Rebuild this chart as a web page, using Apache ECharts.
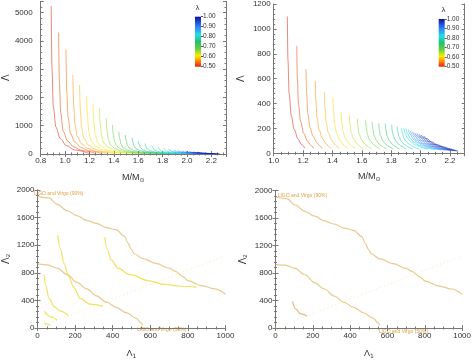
<!DOCTYPE html>
<html><head><meta charset="utf-8">
<script src="https://cdn.jsdelivr.net/npm/echarts@6/dist/echarts.min.js"></script>
<style>html,body{margin:0;padding:0;background:#fff}#c{width:474px;height:360px}</style>
</head><body><div id="c"></div>
<script>
// ---------- DATA ----------
const lambdaValues = [0.50,0.52,0.54,0.56,0.58,0.60,0.62,0.64,0.66,0.68,0.70,0.72,0.74,0.76,0.78,0.80,0.82,0.84,0.86,0.88,0.90,0.92,0.94,0.96,0.98,1.00];
const colorbarTicks = [0.50,0.60,0.70,0.80,0.90,1.00];

// top-left panel: Lambda vs M/Msun
const curvesA = [
 [[0.886,5236],[0.893,3000],[0.903,1700],[0.925,950],[0.96,550],[1.01,300],[1.08,140],[1.2,20]],
 [[0.947,4300],[0.954,2500],[0.964,1450],[0.985,800],[1.02,460],[1.07,250],[1.14,120],[1.25,20]],
 [[1.007,3700],[1.014,2200],[1.024,1300],[1.045,720],[1.08,420],[1.13,230],[1.2,110],[1.3,20]],
 [[1.064,2800],[1.071,1750],[1.081,1050],[1.10,620],[1.135,360],[1.185,200],[1.25,95],[1.35,20]],
 [[1.119,2440],[1.126,1500],[1.136,920],[1.155,550],[1.19,320],[1.24,180],[1.31,85],[1.41,15]],
 [[1.177,2050],[1.184,1300],[1.194,800],[1.213,480],[1.25,280],[1.30,160],[1.37,75],[1.47,15]],
 [[1.229,1760],[1.236,1120],[1.246,700],[1.266,420],[1.30,250],[1.35,140],[1.42,65],[1.53,12]],
 [[1.282,1620],[1.289,1030],[1.299,640],[1.318,390],[1.355,230],[1.405,130],[1.475,60],[1.59,12]],
 [[1.337,1260],[1.344,820],[1.354,520],[1.374,320],[1.41,190],[1.46,110],[1.53,50],[1.65,10]],
 [[1.389,1030],[1.396,680],[1.406,440],[1.426,270],[1.46,165],[1.51,95],[1.58,45],[1.70,10]],
 [[1.441,790],[1.448,540],[1.458,350],[1.478,220],[1.515,135],[1.565,80],[1.64,38],[1.76,8]],
 [[1.494,670],[1.502,460],[1.512,300],[1.532,190],[1.57,118],[1.62,70],[1.70,33],[1.82,8]],
 [[1.549,580],[1.557,400],[1.567,265],[1.588,168],[1.625,105],[1.675,63],[1.755,30],[1.88,7]],
 [[1.601,450],[1.609,320],[1.62,215],[1.64,140],[1.68,88],[1.73,54],[1.81,26],[1.94,6]],
 [[1.656,370],[1.664,265],[1.675,180],[1.695,120],[1.735,76],[1.785,47],[1.87,22],[2.0,5]],
 [[1.711,300],[1.72,220],[1.731,152],[1.752,102],[1.79,66],[1.84,42],[1.92,20],[2.05,5]],
 [[1.763,245],[1.772,182],[1.784,128],[1.805,88],[1.845,58],[1.895,37],[1.97,18],[2.1,4]],
 [[1.81,200],[1.82,150],[1.833,108],[1.855,76],[1.895,51],[1.945,33],[2.02,17],[2.14,4]],
 [[1.85,170],[1.86,130],[1.875,95],[1.9,68],[1.94,46],[1.99,30],[2.06,16],[2.17,4]],
 [[1.89,145],[1.9,113],[1.915,84],[1.94,61],[1.98,42],[2.03,28],[2.1,15],[2.2,4]],
 [[1.925,125],[1.936,98],[1.952,74],[1.977,55],[2.015,38],[2.065,26],[2.13,14],[2.22,4]],
 [[1.96,108],[1.97,86],[1.986,66],[2.01,49],[2.05,35],[2.1,24],[2.16,13],[2.235,4]],
 [[1.99,94],[2.0,76],[2.016,59],[2.04,45],[2.08,32],[2.125,22],[2.18,12],[2.245,4]],
 [[2.02,82],[2.03,67],[2.046,53],[2.07,41],[2.105,29],[2.15,20],[2.2,11],[2.255,4]],
 [[2.05,72],[2.06,60],[2.075,48],[2.1,37],[2.13,27],[2.17,19],[2.22,10],[2.262,4]],
 [[2.08,63],[2.09,53],[2.105,43],[2.125,34],[2.155,25],[2.19,17],[2.23,10],[2.27,4]]
];

// top-right panel
const curvesB = [
 [[1.093,1100],[1.097,750],[1.105,480],[1.12,300],[1.14,190],[1.165,115],[1.19,70],[1.213,40]],
 [[1.157,863],[1.161,600],[1.169,390],[1.184,250],[1.204,160],[1.229,100],[1.252,64],[1.272,40]],
 [[1.22,677],[1.224,480],[1.232,320],[1.248,205],[1.268,135],[1.293,88],[1.313,60],[1.33,38]],
 [[1.283,584],[1.287,420],[1.295,285],[1.31,185],[1.33,122],[1.355,80],[1.375,55],[1.39,38]],
 [[1.345,491],[1.349,360],[1.357,245],[1.372,165],[1.392,110],[1.415,74],[1.433,52],[1.447,38]],
 [[1.403,451],[1.407,330],[1.415,228],[1.43,155],[1.45,104],[1.472,71],[1.49,50],[1.503,38]],
 [[1.459,331],[1.463,250],[1.471,180],[1.486,125],[1.506,88],[1.528,62],[1.545,46],[1.558,36]],
 [[1.515,305],[1.519,232],[1.527,168],[1.542,118],[1.562,84],[1.583,60],[1.6,45],[1.612,36]],
 [[1.569,279],[1.573,215],[1.581,158],[1.596,112],[1.616,80],[1.637,58],[1.654,44],[1.666,36]],
 [[1.626,265],[1.63,205],[1.638,151],[1.653,108],[1.673,78],[1.694,57],[1.71,44],[1.722,36]],
 [[1.67,252],[1.674,196],[1.682,146],[1.697,105],[1.717,76],[1.738,56],[1.754,43],[1.767,35]],
 [[1.715,240],[1.719,188],[1.727,141],[1.742,102],[1.762,74],[1.783,55],[1.8,43],[1.812,35]],
 [[1.76,238],[1.764,186],[1.772,140],[1.787,101],[1.807,74],[1.828,55],[1.845,42],[1.857,34]],
 [[1.803,230],[1.807,181],[1.815,137],[1.83,100],[1.85,73],[1.872,55],[1.89,42],[1.903,34]],
 [[1.84,215],[1.845,172],[1.853,132],[1.868,97],[1.889,72],[1.912,54],[1.932,41],[1.947,33]],
 [[1.87,200],[1.876,162],[1.885,127],[1.9,95],[1.924,71],[1.952,53],[1.975,40],[1.993,32]],
 [[1.885,205],[1.895,160],[1.91,122],[1.935,90],[1.965,67],[2.0,50],[2.03,38],[2.05,32]],
 [[1.9,200],[1.912,156],[1.93,118],[1.955,88],[1.99,64],[2.03,47],[2.07,35],[2.1,29]],
 [[1.915,190],[1.93,150],[1.95,114],[1.98,84],[2.02,61],[2.06,45],[2.1,34],[2.14,26]],
 [[1.93,180],[1.945,145],[1.968,110],[2.0,81],[2.04,59],[2.085,43],[2.13,32],[2.17,24]],
 [[1.945,172],[1.962,140],[1.986,107],[2.02,78],[2.065,57],[2.11,41],[2.155,30],[2.195,22]],
 [[1.96,165],[1.978,135],[2.004,104],[2.04,76],[2.085,55],[2.13,40],[2.175,29],[2.21,21]],
 [[1.975,158],[1.995,130],[2.022,101],[2.06,74],[2.105,54],[2.15,39],[2.19,28],[2.225,20]],
 [[1.99,152],[2.01,126],[2.04,98],[2.08,72],[2.125,53],[2.17,38],[2.205,27],[2.235,19]],
 [[2.005,146],[2.026,122],[2.057,95],[2.098,70],[2.145,52],[2.185,37],[2.218,26],[2.245,18]],
 [[2.02,140],[2.042,118],[2.074,92],[2.115,68],[2.16,50],[2.2,36],[2.23,25],[2.255,17]]
];

// bottom panels: Lambda2 vs Lambda1
const ligo90 = [[0,1908],[61,1885],[105,1792],[157,1700],[210,1630],[262,1561],[314,1515],[367,1455],[419,1423],[463,1330],[480,1238],[498,1145],[515,1076],[559,1007],[629,938],[699,868],[734,822],[769,753],[803,684],[873,614],[943,568],[1000,490]];
const ligo50 = [[0,928],[52,915],[105,868],[157,776],[210,660],[262,568],[314,466],[367,374],[419,300],[472,222],[524,143],[550,74],[559,37]];
const equalMass = [[0,0],[1000,1050]];
const tracksLeft = [
 [[35,776],[44,614],[61,430],[87,314],[122,245],[166,176]],
 [[35,245],[70,162],[105,115]],
 [[35,74],[70,37]],
 [[108,1344],[122,1145],[140,938],[166,753],[192,591],[227,430],[279,346],[349,314]],
 [[358,1316],[370,1145],[393,984],[428,868],[489,776],[594,684],[664,637],[760,605],[847,591]]
];
const tracksRight = [
 [[91,388],[109,274],[135,205],[170,174]]
];
const label90 = 'LIGO and Virgo (90%)';
const label50 = 'LIGO and Virgo (50%)';

// ---------- STYLE ----------
const FONT = 'Liberation Sans, Arial, sans-serif';
const cmap = [[0.50,'#e41f14'],[0.56,'#ff9000'],[0.61,'#ffea00'],[0.68,'#60d040'],[0.75,'#20c070'],[0.82,'#20e0e0'],[0.90,'#3080ff'],[1.00,'#0c10a0']];
function hex2rgb(h){return [parseInt(h.substr(1,2),16),parseInt(h.substr(3,2),16),parseInt(h.substr(5,2),16)];}
function lamColor(v){
  for(let i=0;i<cmap.length-1;i++){
    const a=cmap[i],b=cmap[i+1];
    if(v<=b[0]+1e-9){
      const t=(v-a[0])/(b[0]-a[0]);const ca=hex2rgb(a[1]),cb=hex2rgb(b[1]);
      return 'rgb('+ca.map((c,k)=>Math.round(c+(cb[k]-c)*t)).join(',')+')';
    }
  }
  return cmap[cmap.length-1][1];
}
const lineCol='#777';
const plain = v=>String(v);
function mkX(grid,min,max,interval,fmt,name,nameGap,labelMargin,showMax){
  return [{type:'value',gridIndex:grid,min:min,max:max,interval:interval,
    axisLine:{lineStyle:{color:lineCol}},axisTick:{inside:true,length:3,lineStyle:{color:lineCol}},
    minorTick:{show:true,splitNumber:4,length:1.5,lineStyle:{color:lineCol}},splitLine:{show:false},
    axisLabel:{fontSize:8,color:'#333',fontFamily:FONT,margin:labelMargin,showMaxLabel:showMax,formatter:fmt},
    name:name,nameLocation:'middle',nameGap:nameGap,
    nameTextStyle:{color:'#333',fontFamily:FONT,rich:{a:{fontSize:9,fontFamily:FONT,color:'#333'},s:{fontSize:6,fontFamily:'DejaVu Sans',color:'#333',padding:[5,0,0,0]}}}},
   {type:'value',gridIndex:grid,position:'top',min:min,max:max,interval:interval,
    axisLine:{lineStyle:{color:lineCol}},axisTick:{inside:true,length:3,lineStyle:{color:lineCol}},
    minorTick:{show:true,splitNumber:4,length:1.5,lineStyle:{color:lineCol}},splitLine:{show:false},axisLabel:{show:false}}];
}
function mkY(grid,min,max,interval,name,nameGap,labelMargin,showMax){
  return [{type:'value',gridIndex:grid,min:min,max:max,interval:interval,
    axisLine:{show:true,lineStyle:{color:lineCol}},axisTick:{show:true,inside:true,length:3,lineStyle:{color:lineCol}},
    minorTick:{show:true,splitNumber:5,length:1.5,lineStyle:{color:lineCol}},splitLine:{show:false},
    axisLabel:{fontSize:8,color:'#333',fontFamily:FONT,margin:labelMargin,showMaxLabel:showMax,formatter:plain},
    name:name,nameLocation:'middle',nameGap:nameGap,
    nameTextStyle:{color:'#333',fontFamily:FONT,rich:{a:{fontSize:10,fontFamily:FONT,color:'#333'},s:{fontSize:6,fontFamily:FONT,color:'#333',padding:[5,0,0,0]}}}},
   {type:'value',gridIndex:grid,position:'right',min:min,max:max,interval:interval,
    axisLine:{show:true,lineStyle:{color:lineCol}},axisTick:{show:true,inside:true,length:3,lineStyle:{color:lineCol}},
    minorTick:{show:true,splitNumber:5,length:1.5,lineStyle:{color:lineCol}},splitLine:{show:false},axisLabel:{show:false}}];
}
const f1 = v=>v.toFixed(1);
const xAxes = [].concat(
  mkX(0,0.8,2.32,0.2,f1,'{a|M/M}{s|⊙}',18,3,false),
  mkX(1,1.0,2.3,0.2,f1,'{a|M/M}{s|⊙}',18,3,false),
  mkX(2,0,1000,200,plain,'{a|Λ}{s|1}',20,4,true),
  mkX(3,0,1000,200,plain,'{a|Λ}{s|1}',20,4,true),
  [{type:'category',gridIndex:4,data:['c'],show:false},{type:'category',gridIndex:5,data:['c'],show:false}]
);
const cbY = g=>({type:'value',gridIndex:g,position:'right',min:0.5,max:1.0,interval:0.1,
  axisLine:{show:false},axisTick:{show:true,length:2,lineStyle:{color:'#555'}},splitLine:{show:false},
  axisLabel:{fontSize:6.5,color:'#333',fontFamily:FONT,margin:2,formatter:v=>v.toFixed(2)}});
const yAxes = [].concat(
  mkY(0,0,5400,1000,'{a|Λ}',23,8,false),
  mkY(1,0,1200,200,'{a|Λ}',27,3,true),
  mkY(2,0,2000,400,'{a|Λ}{s|2}',26,3,true),
  mkY(3,0,2000,400,'{a|Λ}{s|2}',27,3,true),
  [cbY(4),cbY(5)]
);
const series=[];
function addLine(xi,yi,pts,color,opacity,width,dash){
  series.push({type:'line',xAxisIndex:xi,yAxisIndex:yi,data:pts,showSymbol:false,smooth:0.35,smoothMonotone:'x',
    silent:true,lineStyle:{color:color,width:width||1,opacity:opacity,type:dash||'solid'}});
}
curvesA.forEach((c,i)=>addLine(0,0,c,lamColor(lambdaValues[i]),0.55,1));
curvesB.forEach((c,i)=>addLine(2,2,c,lamColor(lambdaValues[i]),0.55,1));
const tan='#e2b060';
addLine(4,4,ligo90,tan,0.7,1.2); addLine(4,4,ligo50,tan,0.7,1.2);
addLine(6,6,ligo90,tan,0.7,1.2); addLine(6,6,ligo50,tan,0.7,1.2);
addLine(4,4,equalMass,'#f0e8a0',0.8,1,[1,3]);
addLine(6,6,equalMass,'#f0e8a0',0.8,1,[1,3]);
tracksLeft.forEach(t=>addLine(4,4,t,'#eedc3a',0.8,1.2));
tracksRight.forEach(t=>addLine(6,6,t,tan,0.85,1.2));
const grad = ()=>new echarts.graphic.LinearGradient(0,1,0,0,cmap.map(c=>({offset:(c[0]-0.5)/0.5,color:c[1]})));
[[8,8],[9,9]].forEach(([xi,yi])=>{
  series.push({type:'bar',xAxisIndex:xi,yAxisIndex:yi,stack:'cb'+xi,data:[colorbarTicks[0]],barWidth:'100%',itemStyle:{color:'rgba(0,0,0,0)'},silent:true});
  series.push({type:'bar',xAxisIndex:xi,yAxisIndex:yi,stack:'cb'+xi,data:[colorbarTicks[colorbarTicks.length-1]-colorbarTicks[0]],barWidth:'100%',itemStyle:{color:grad()},silent:true});
});
const txt=(l,t,s,fs,col)=>({type:'text',left:l,top:t,silent:true,style:{text:s,fontSize:fs,fill:col,fontFamily:FONT}});
const chart=echarts.init(document.getElementById('c'),null,{renderer:'canvas'});
chart.setOption({
  animation:false,backgroundColor:'#fff',
  grid:[
    {left:32.5,top:1.4,width:193.5,height:152.6},
    {left:273.7,top:2.7,width:191,height:150.6},
    {left:32.8,top:190,width:192.7,height:144.3},
    {left:275.5,top:190.7,width:190.8,height:146},
    {left:195,top:16.7,width:6,height:50},
    {left:438.7,top:19,width:6,height:47.7}
  ],
  xAxis:xAxes,yAxis:yAxes,series:series,
  graphic:[
    txt(195.5,4,'λ',8,'#333'),
    txt(441.5,6,'λ',8,'#333'),
    txt(34,191.5,label90,5,'#e0a040'),
    txt(137,327.5,label50,5,'#e0a040'),
    txt(277.7,193,label90,5,'#e0a040'),
    txt(378.7,329.5,label50,5,'#e0a040')
  ]
});
</script></body></html>
